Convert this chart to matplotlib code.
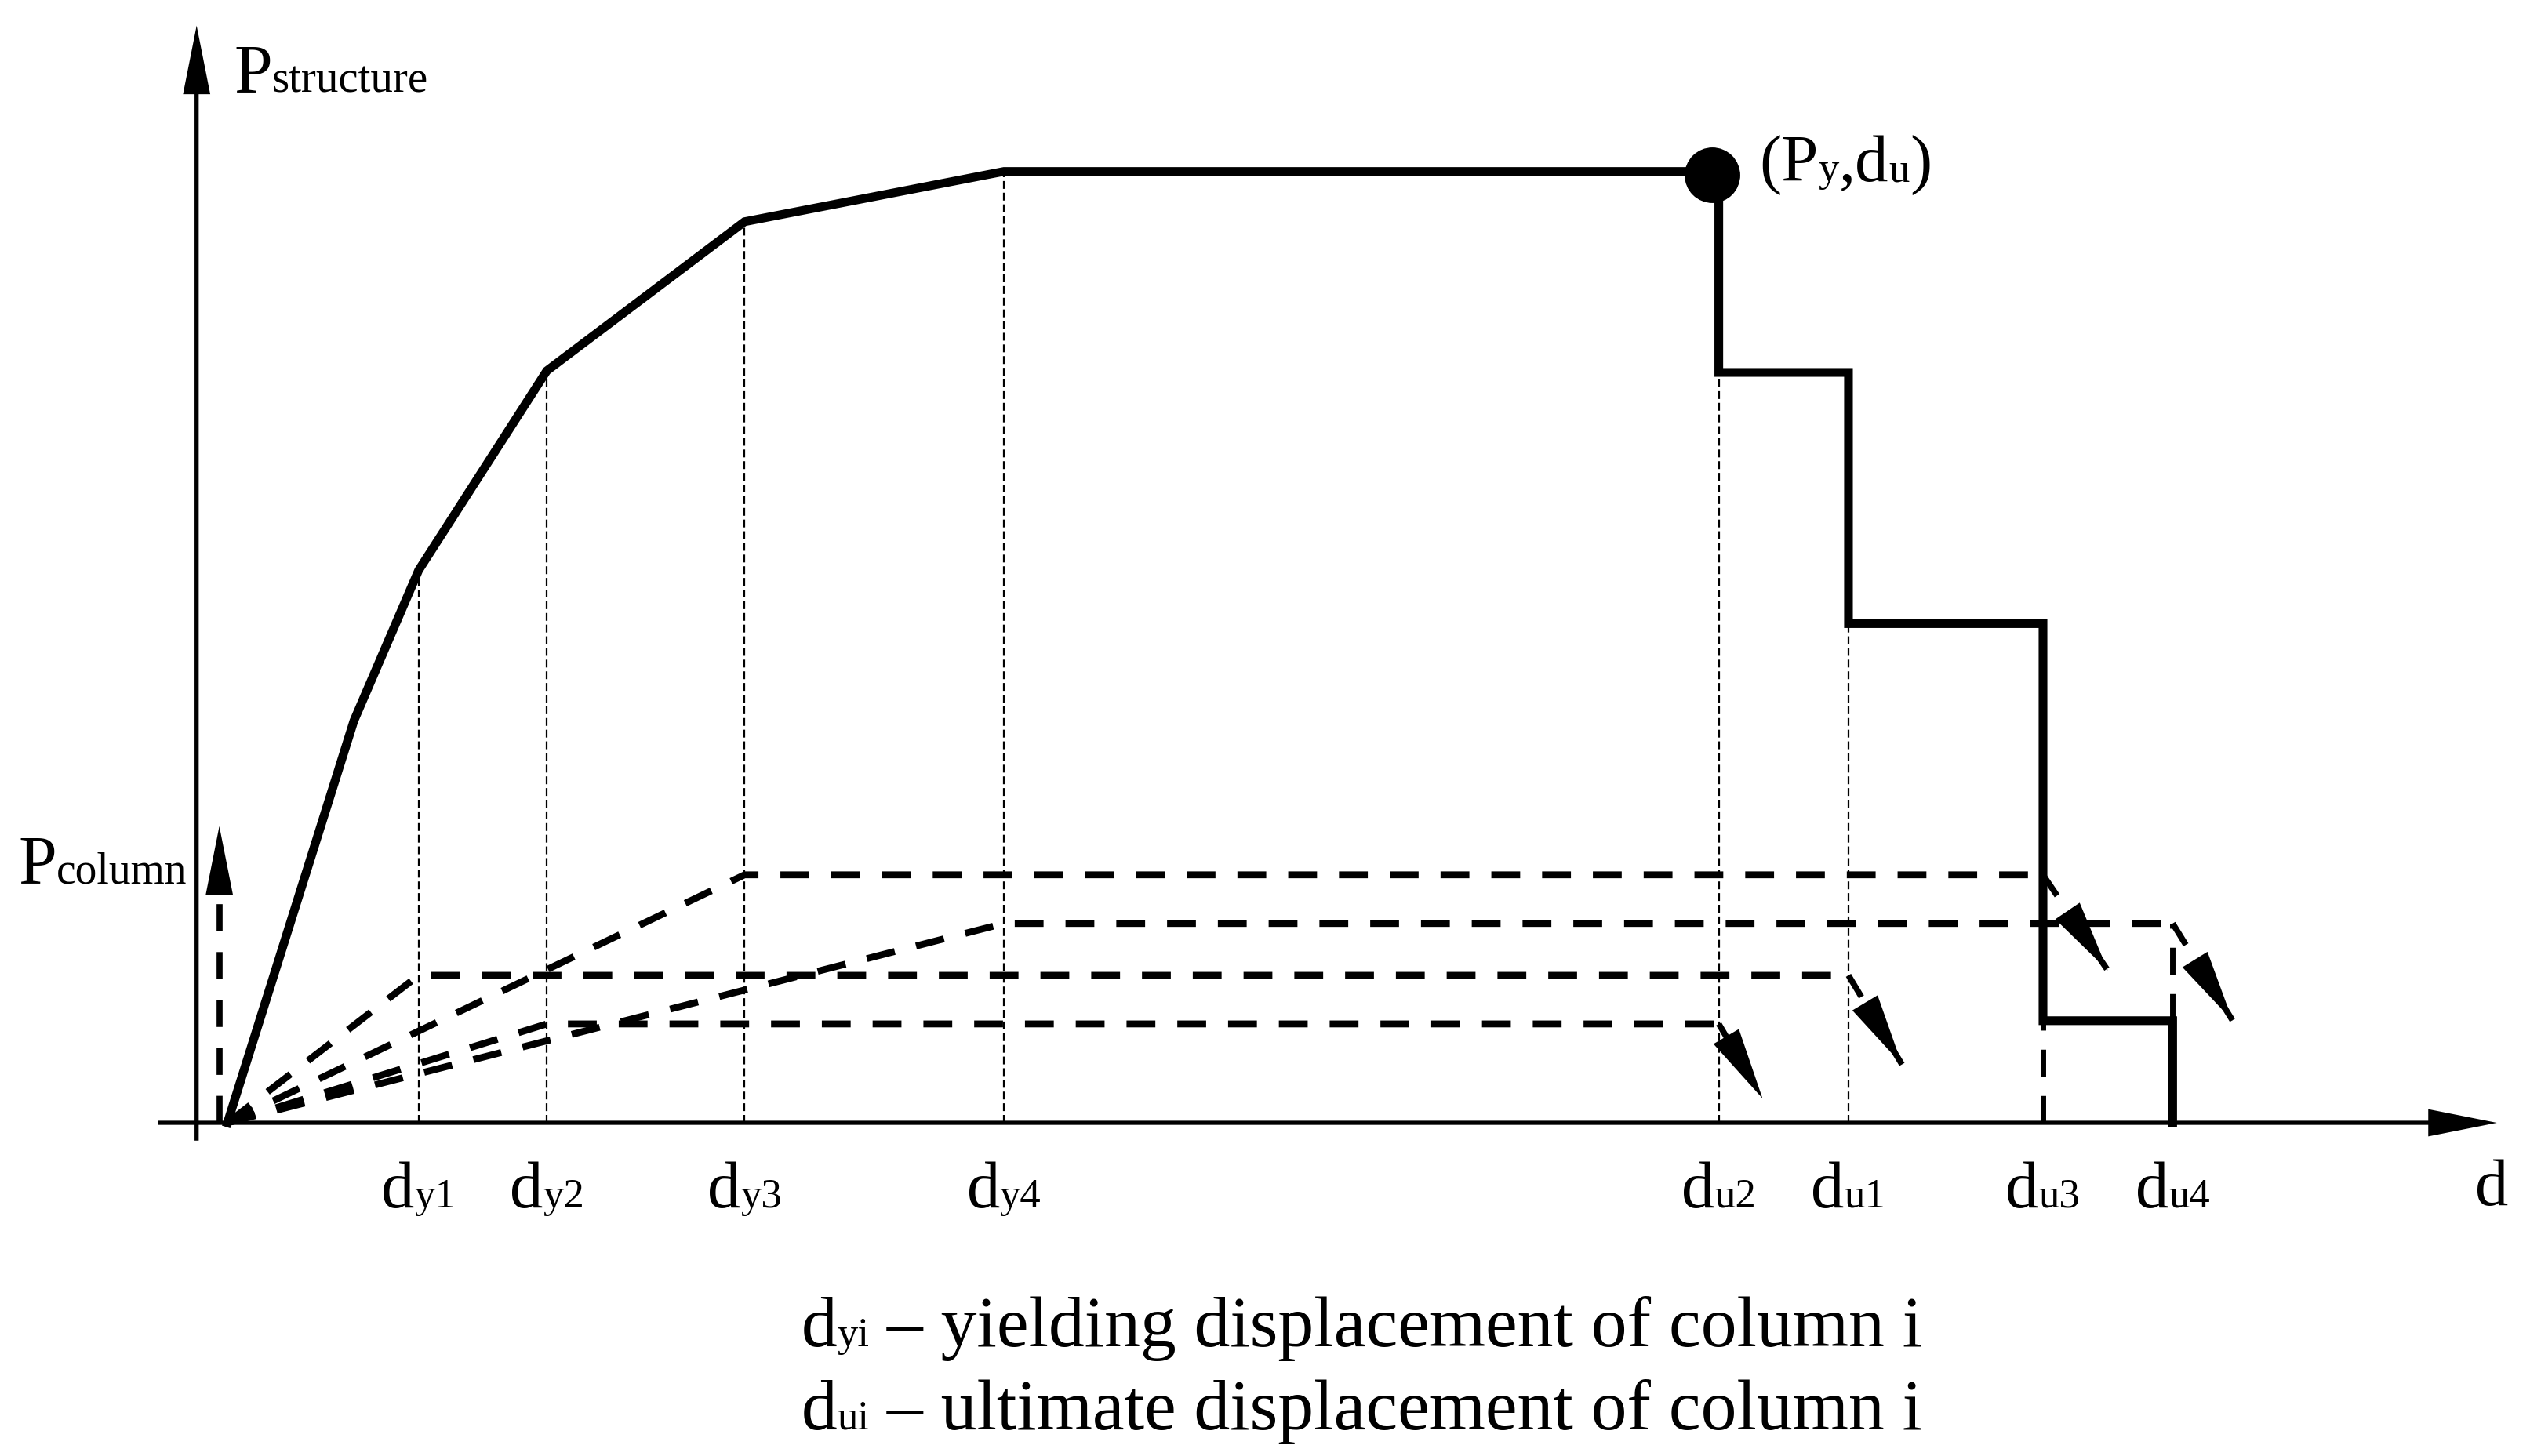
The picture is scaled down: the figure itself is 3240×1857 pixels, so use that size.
import matplotlib
matplotlib.use('Agg')
import matplotlib.pyplot as plt

FONT = 'Liberation Serif'

# structure capacity curve (displacement d, force P)
d_struct = [0, 0.78, 1.18, 1.97, 3.19, 4.79, 9.2, 9.2, 10.0, 10.0, 11.2, 11.2, 12.0, 12.0]
P_struct = [0, 2.48, 3.41, 4.64, 5.56, 5.87, 5.87, 4.63, 4.63, 3.08, 3.08, 0.63, 0.63, 0]

# columns 1..4
col_names = ['1', '2', '3', '4']
dy = [1.18, 1.97, 3.19, 4.79]
du = [10.0, 9.2, 11.2, 12.0]
P_col = [0.91, 0.61, 1.53, 1.23]
tip_d = [10.33, 9.47, 11.60, 12.37]
tip_P = [0.36, 0.15, 0.94, 0.63]

# top of the thin guide lines
dy_top = [3.41, 4.64, 5.56, 5.87]
du_top = [3.08, 4.63, 0.63, 1.23]
du_bottom = [0, 0, 0, 0.63]

dot_d, dot_P = 9.16, 5.85

fig = plt.figure(figsize=(32.41, 18.57), dpi=100)
ax = fig.add_axes([0, 0, 1, 1])
ax.set_xlim(-1.403, 14.277)
ax.set_ylim(-2.056, 6.928)
ax.axis('off')

col_dash = (0, (4.2, 3.2))


def arrow(start, end, tail=0.0, hl=63, hw=25):
    style = 'simple,head_length=%g,head_width=%g,tail_width=%g' % (hl, hw, tail)
    ax.annotate('', xy=end, xytext=start,
                arrowprops=dict(arrowstyle=style, mutation_scale=1, fc='k', ec='none',
                                shrinkA=0, shrinkB=0),
                annotation_clip=False)


# axes
arrow((-0.43, 0), (14.0, 0), tail=3.8)
arrow((-0.19, -0.11), (-0.19, 6.77), tail=3.8)

# thin guide lines
for x, top in zip(dy, dy_top):
    ax.plot([x, x], [0, top], color='k', lw=1.6, ls=(0, (4.5, 2.2)))
for x, top, bot in zip(du, du_top, du_bottom):
    if x in (10.0, 9.2):
        ax.plot([x, x], [bot, top], color='k', lw=1.6, ls=(0, (4.5, 2.2)))
    else:
        ax.plot([x, x], [bot, top], color='k', lw=5, ls=(0, (5, 3.5)))

# column curves
for i in range(4):
    ax.plot([0, dy[i], du[i]], [0, P_col[i], P_col[i]], color='k', lw=6.3, ls=col_dash,
            dash_capstyle='butt')
    ax.plot([du[i], tip_d[i]], [P_col[i], tip_P[i]], color='k', lw=5.5, ls=col_dash)
    arrow((du[i], P_col[i]), (tip_d[i], tip_P[i]), hl=66, hw=27)

# P column arrow
ax.plot([-0.05, -0.05], [0, 1.5], color='k', lw=5.5, ls=(0, (4.5, 3.5)))
arrow((-0.05, 0), (-0.05, 1.83))

# structure curve
ax.plot(d_struct, P_struct, color='k', lw=8, solid_joinstyle='miter', zorder=5)
ax.plot([dot_d], [dot_P], 'o', color='k', ms=50, zorder=6)

rend = fig.canvas.get_renderer()


def rich(x, y, parts, align='left'):
    arts = []
    off = 0.0
    for s, size in parts:
        a = ax.annotate(s, (x, y), xytext=(off, 0), textcoords='offset pixels',
                        fontsize=size, family=FONT, ha='left', va='baseline',
                        annotation_clip=False)
        arts.append((a, off))
        off += a.get_window_extent(rend).width
    if align == 'center':
        for a, o in arts:
            a.xyann = (o - off / 2, 0)


for x, n in zip(dy, col_names):
    rich(x, -0.52, [('d', 61), ('y' + n, 38)], align='center')
for x, n in zip(du, col_names):
    rich(x, -0.52, [('d', 61), ('u' + n, 38)], align='center')

rich(13.97, -0.51, [('d', 61)], align='center')
rich(0.04, 6.36, [('P', 63), ('structure', 41)])
rich(-1.29, 1.48, [('P', 63), ('column', 40)])
rich(9.45, 5.81, [('(P', 61), ('y', 38), (',d', 61), ('u', 38), (')', 61)])

rich(3.54, -1.38, [('d', 66), ('yi', 38), (' \u2013 yielding displacement of column i', 66)])
rich(3.54, -1.89, [('d', 66), ('ui', 38), (' \u2013 ultimate displacement of column i', 66)])

fig.savefig('out.png', dpi=100)
